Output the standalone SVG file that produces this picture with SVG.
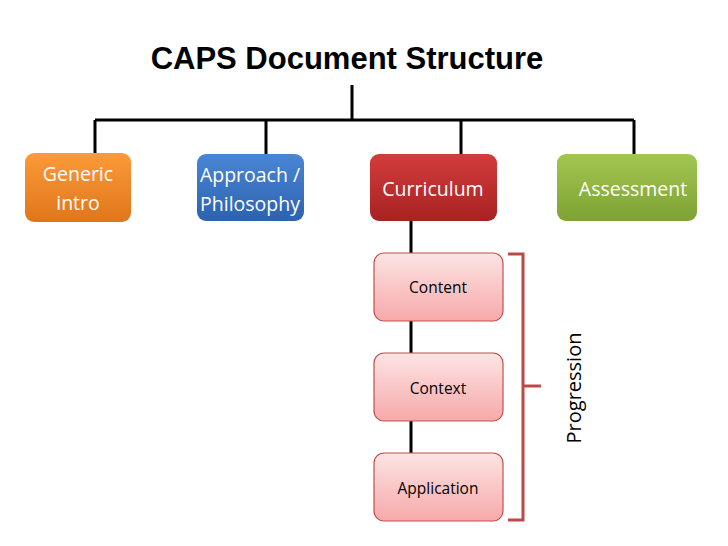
<svg xmlns="http://www.w3.org/2000/svg" width="728" height="546" viewBox="0 0 728 546">
<defs>
<linearGradient id="gO" x1="0" y1="0" x2="0" y2="1"><stop offset="0" stop-color="#fb9a3a"/><stop offset="1" stop-color="#e0761a"/></linearGradient>
<linearGradient id="gB" x1="0" y1="0" x2="0" y2="1"><stop offset="0" stop-color="#4a86d4"/><stop offset="1" stop-color="#2c62b0"/></linearGradient>
<linearGradient id="gR" x1="0" y1="0" x2="0" y2="1"><stop offset="0" stop-color="#d23c3c"/><stop offset="1" stop-color="#a82222"/></linearGradient>
<linearGradient id="gG" x1="0" y1="0" x2="0" y2="1"><stop offset="0" stop-color="#a3c651"/><stop offset="1" stop-color="#7ea233"/></linearGradient>
<linearGradient id="gP" x1="0" y1="0" x2="0" y2="1"><stop offset="0" stop-color="#fde4e4"/><stop offset="1" stop-color="#f6a9a9"/></linearGradient>
</defs>
<style>
.top{font-family:"Open Sans",Lato,sans-serif;font-size:19.5px;fill:#fff;text-anchor:middle}
.sub{font-family:"Open Sans",Lato,sans-serif;font-size:15.5px;fill:#000;text-anchor:middle}
.ln{stroke:#000;stroke-width:3;fill:none}
.pb{fill:url(#gP);stroke:#c0504d;stroke-width:1.2}
</style>
<text x="347" y="69" font-family="Liberation Sans,Arial,sans-serif" font-weight="bold" font-size="31" text-anchor="middle">CAPS Document Structure</text>
<g id="connectors">
<path class="ln" d="M352 85V120M95 120H634M95 120V153M266 120V154M461 120V154M634 120V154M411 221V453"/>
<path d="M508 254H523V386H541M523 386V520H508" fill="none" stroke="#b94a48" stroke-width="3"/>
</g>
<g id="generic"><rect x="25" y="153" width="106" height="69" rx="9" fill="url(#gO)"/><text class="top" x="78" y="181">Generic</text><text class="top" x="78" y="210">intro</text></g>
<g id="approach"><rect x="197" y="154" width="107" height="67" rx="9" fill="url(#gB)"/><text class="top" x="250" y="182">Approach /</text><text class="top" x="250" y="211">Philosophy</text></g>
<g id="curriculum"><rect x="370" y="154" width="127" height="67" rx="9" fill="url(#gR)"/><text class="top" x="433" y="196">Curriculum</text></g>
<g id="assessment"><rect x="557" y="154" width="140" height="67" rx="9" fill="url(#gG)"/><text class="top" x="633" y="196">Assessment</text></g>
<g id="content"><rect class="pb" x="374" y="253" width="129" height="68" rx="10"/><text class="sub" x="438" y="293">Content</text></g>
<g id="context"><rect class="pb" x="374" y="353" width="129" height="68" rx="10"/><text class="sub" x="438" y="394">Context</text></g>
<g id="application"><rect class="pb" x="374" y="453" width="129" height="68" rx="10"/><text class="sub" x="438" y="494">Application</text></g>
<text transform="translate(574,388) rotate(-90)" font-family="'Open Sans',Lato,sans-serif" font-size="20" text-anchor="middle" dy="7">Progression</text>
</svg>
